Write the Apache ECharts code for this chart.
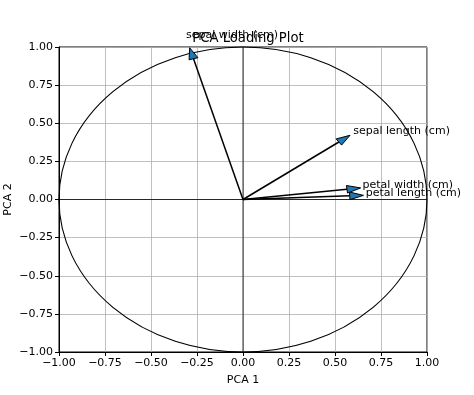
<!DOCTYPE html>
<html>
<head>
<meta charset="utf-8">
<script src="https://cdn.jsdelivr.net/npm/echarts@6/dist/echarts.min.js"></script>
<style>html,body{margin:0;padding:0;background:#fff}#c{width:474px;height:395px}</style>
</head>
<body>
<div id="c"></div>
<script>
const features = ['sepal length (cm)', 'sepal width (cm)', 'petal length (cm)', 'petal width (cm)'];
const pc1 = [0.521, -0.269, 0.580, 0.565];
const pc2 = [0.377, 0.923, 0.024, 0.067];
const tickValues = [-1, -0.75, -0.5, -0.25, 0, 0.25, 0.5, 0.75, 1];
const titleText = 'PCA Loading Plot';
const xName = 'PCA 1';
const yName = 'PCA 2';

const FONT = 'DejaVu Sans';
const fmt = v => (v < 0 ? '\u2212' : '') + Math.abs(v).toFixed(2);

const arrowData = features.map((f, i) => [pc1[i], pc2[i], i]);

const chart = echarts.init(document.getElementById('c'), null, {renderer: 'canvas'});
chart.setOption({
  animation: false,
  backgroundColor: '#fff',
  title: {
    text: titleText, left: 243, top: 27, textAlign: 'center',
    textStyle: {fontFamily: FONT, fontSize: 13.2, fontWeight: 'normal', color: '#000'}
  },
  grid: {left: 59, right: 47, top: 47, bottom: 43, containLabel: false, outerBoundsMode: 'none',
    show: true, borderColor: '#000', borderWidth: 1, backgroundColor: 'transparent'},
  xAxis: {
    type: 'value', min: tickValues[0], max: tickValues[tickValues.length - 1], interval: 0.25,
    name: xName, nameLocation: 'middle', nameGap: 23, nameMoveOverlap: false,
    nameTextStyle: {fontFamily: FONT, fontSize: 11, color: '#000'},
    axisLine: {show: true, onZero: false, lineStyle: {color: '#000', width: 1}},
    axisTick: {show: true, length: 4, lineStyle: {color: '#000'}},
    axisLabel: {formatter: fmt, fontFamily: FONT, fontSize: 11, color: '#000', margin: 6},
    splitLine: {show: true, lineStyle: {color: '#b0b0b0', width: 0.8}}
  },
  yAxis: {
    type: 'value', min: tickValues[0], max: tickValues[tickValues.length - 1], interval: 0.25,
    name: yName, nameLocation: 'middle', nameGap: 45, nameMoveOverlap: false,
    nameTextStyle: {fontFamily: FONT, fontSize: 11, color: '#000'},
    axisLine: {show: true, onZero: false, lineStyle: {color: '#000', width: 1}},
    axisTick: {show: true, length: 4, lineStyle: {color: '#000'}},
    axisLabel: {formatter: fmt, fontFamily: FONT, fontSize: 11, color: '#000', margin: 6},
    splitLine: {show: true, lineStyle: {color: '#b0b0b0', width: 0.8}}
  },
  series: [
    {
      type: 'custom',
      coordinateSystem: 'cartesian2d',
      data: [[0, 0]],
      silent: true,
      z: 3,
      renderItem: function (params, api) {
        const c = api.coord([0, 0]);
        const px = api.coord([1, 0]);
        const py = api.coord([0, 1]);
        const rx = px[0] - c[0];
        const ry = c[1] - py[1];
        const l = api.coord([-1, 0]), r = api.coord([1, 0]);
        const b = api.coord([0, -1]), t = api.coord([0, 1]);
        return {
          type: 'group',
          children: [
            {type: 'line', shape: {x1: l[0], y1: l[1], x2: r[0], y2: r[1]}, style: {stroke: '#000', lineWidth: 0.8}},
            {type: 'line', shape: {x1: b[0], y1: b[1], x2: t[0], y2: t[1]}, style: {stroke: '#000', lineWidth: 0.8}},
            {type: 'circle', shape: {cx: 0, cy: 0, r: rx}, x: c[0], y: c[1], scaleX: 1, scaleY: ry / rx,
              style: {fill: 'none', stroke: '#000', lineWidth: 1.1, strokeNoScale: true}}
          ]
        };
      }
    },
    {
      type: 'custom',
      coordinateSystem: 'cartesian2d',
      data: arrowData,
      silent: true,
      z: 5,
      renderItem: function (params, api) {
        const x = api.value(0), y = api.value(1), idx = api.value(2);
        const d = Math.hypot(x, y);
        const ux = x / d, uy = y / d;
        const hl = 0.075, hw = 0.025;
        const o = api.coord([0, 0]);
        const base = api.coord([x, y]);
        const tip = api.coord([x + ux * hl, y + uy * hl]);
        const lft = api.coord([x - uy * hw, y + ux * hw]);
        const rgt = api.coord([x + uy * hw, y - ux * hw]);
        const tp = api.coord([x * 1.15, y * 1.15]);
        return {
          type: 'group',
          children: [
            {type: 'line', shape: {x1: o[0], y1: o[1], x2: base[0], y2: base[1]}, style: {stroke: '#000', lineWidth: 1.5}},
            {type: 'polygon', shape: {points: [lft, tip, rgt]}, style: {fill: '#1f77b4', stroke: '#000', lineWidth: 1}},
            {type: 'text', x: tp[0], y: tp[1] + 3, style: {text: features[idx], fill: '#000', font: '11px "DejaVu Sans"', textAlign: 'left', textVerticalAlign: 'bottom'}}
          ]
        };
      }
    }
  ]
});
</script>
</body>
</html>
